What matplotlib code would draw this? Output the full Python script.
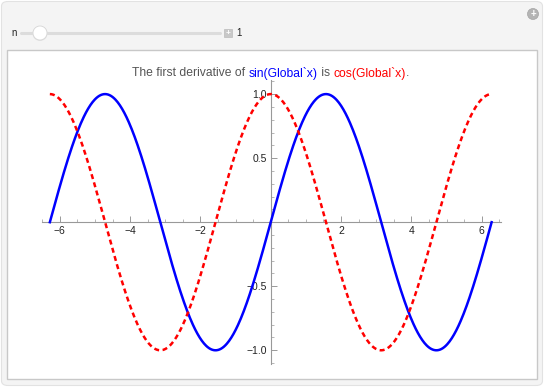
import numpy as np
import matplotlib.pyplot as plt
from matplotlib.patches import Rectangle, FancyBboxPatch, Ellipse
from matplotlib.ticker import MultipleLocator, FixedLocator

plt.rcParams['font.family'] = ['Liberation Sans', 'DejaVu Sans']

# control state and curve data
n_value = 1
x = np.linspace(-2 * np.pi, 2 * np.pi, 600)
f_vals = np.sin(x)
df_vals = np.cos(x)
x_ticks = [-6, -4, -2, 2, 4, 6]
y_ticks = [-1.0, -0.5, 0.5, 1.0]
title_parts = [("The first derivative of ", '#555555'),
               ("sin(Global`x)", '#0000ff'),
               (" is ", '#555555'),
               ("cos(Global`x)", '#ff0000'),
               (".", '#555555')]

W, H = 544, 387
fig = plt.figure(figsize=(W / 100, H / 100), dpi=100)
fig.patch.set_facecolor('white')


def px(xp, yp):
    return xp / W, 1 - yp / H


def dot(xp, yp, r, **kw):
    return Ellipse(px(xp, yp), 2 * r / W, 2 * r / H, transform=fig.transFigure, **kw)


# outer panel
bg = FancyBboxPatch((1.5 / W, 1.5 / H), (W - 3) / W, (H - 3) / H,
                    boxstyle='round,pad=0,rounding_size=0.012',
                    transform=fig.transFigure, facecolor='#f4f4f4',
                    edgecolor='#e2e2e2', lw=0.8, zorder=-3)
fig.add_artist(bg)
# white content box
x0, y0 = px(7, 379)
box = Rectangle((x0, y0), (537 - 7) / W, (379 - 50) / H, transform=fig.transFigure,
                facecolor='white', edgecolor='#c8c8c8', lw=1.0, zorder=-2)
fig.add_artist(box)

# slider
fig.text(*px(11, 33), 'n', fontsize=7, color='#222222', va='center', ha='left')
fig.add_artist(plt.Line2D([21 / W, 220 / W], [1 - 33 / H] * 2, color='#dcdcdc', lw=2.2,
                          solid_capstyle='round', transform=fig.transFigure, zorder=2))
fig.add_artist(dot(40, 33.5, 7.5, facecolor='#e4e4e4', edgecolor='none', zorder=2.5))
fig.add_artist(dot(40, 33, 7, facecolor='white', edgecolor='#d6d6d6', lw=0.6, zorder=3))
fig.add_artist(Rectangle(px(224, 37), 8 / W, 8 / H, transform=fig.transFigure,
                         facecolor='#c8c8c8', edgecolor='#bbbbbb', lw=0.5, zorder=2))
fig.text(*px(228, 33), '+', fontsize=6, color='white', va='center', ha='center',
         fontweight='bold', zorder=3)
fig.text(*px(236, 33), str(n_value), fontsize=7, color='#222222', va='center', ha='left')
# corner icon
fig.add_artist(dot(533, 14, 5.5, facecolor='#b4b4b4', edgecolor='#a4a4a4', lw=0.5, zorder=2))
fig.text(*px(533, 14), '+', fontsize=7, color='white', va='center', ha='center',
         fontweight='bold', zorder=3)

# plot axes placed so the data scale matches
ax_left, ax_right, ax_top, ax_bottom = 41.7, 501.0, 80.0, 364.0
ax = fig.add_axes([ax_left / W, 1 - ax_bottom / H, (ax_right - ax_left) / W,
                   (ax_bottom - ax_top) / H])
ax.patch.set_alpha(0)
ax.set_xlim(-6.515, 6.55)
ax.set_ylim(-1.107, 1.11)

ax.plot(x, f_vals, color='#0000ff', lw=1.8, zorder=3)
ax.plot(x, df_vals, color='#ff0000', lw=1.8, linestyle=(0, (2.0, 1.4)), zorder=3)

for side in ['top', 'right']:
    ax.spines[side].set_visible(False)
for side in ['left', 'bottom']:
    ax.spines[side].set_position(('data', 0))
    ax.spines[side].set_color('#999999')
    ax.spines[side].set_linewidth(0.8)

ax.xaxis.set_major_locator(FixedLocator(x_ticks))
ax.yaxis.set_major_locator(FixedLocator(y_ticks))
ax.xaxis.set_minor_locator(MultipleLocator(0.5))
ax.yaxis.set_minor_locator(MultipleLocator(0.1))
ax.set_xticklabels([f'\u2212{abs(v)}' if v < 0 else str(v) for v in x_ticks])
ax.set_yticklabels([f'\u2212{abs(v):.1f}' if v < 0 else f'{v:.1f}' for v in y_ticks])
ax.tick_params(which='major', direction='in', length=4, width=0.7, color='#999999',
               labelsize=7.5, labelcolor='#222222', pad=3)
ax.tick_params(which='minor', direction='in', length=2, width=0.6, color='#aaaaaa')

# multi-coloured title centred at x=271
fig.canvas.draw()
renderer = fig.canvas.get_renderer()
fs = 8.7


def text_width(s):
    # measure with a guard glyph so edge spaces count
    t = fig.text(0, 0, s + '|', fontsize=fs)
    w = t.get_window_extent(renderer).width
    t.remove()
    return w


guard = text_width('')
offsets = []
prefix = ''
for s, c in title_parts:
    offsets.append(text_width(prefix) - guard)
    prefix += s
total = text_width(prefix) - guard
start = 270.5 - total / 2
for (s, c), off in zip(title_parts, offsets):
    fig.text((start + off) / W, 1 - 73 / H, s, fontsize=fs, color=c, va='center', ha='left')

fig.savefig('out.png', dpi=100, facecolor='white')
